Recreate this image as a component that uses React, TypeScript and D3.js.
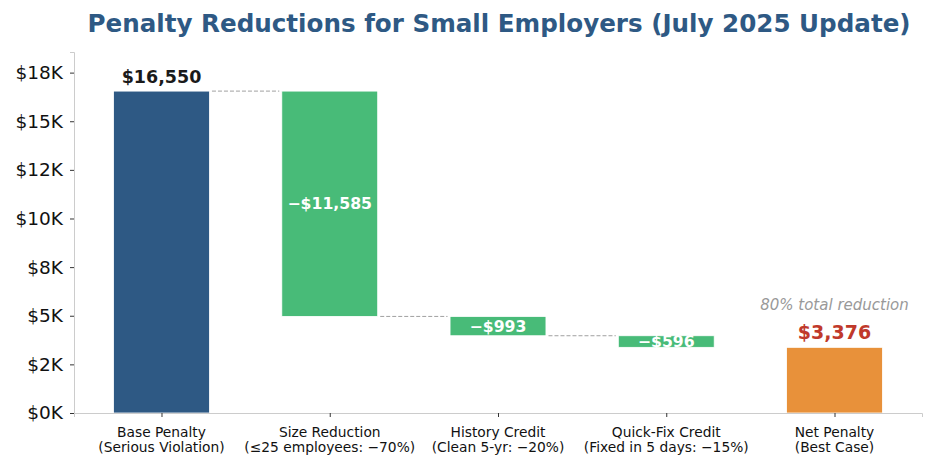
import React, { useEffect, useRef } from "react";
import * as d3 from "d3";

const categories = [
  ["Base Penalty", "(Serious Violation)"],
  ["Size Reduction", "(≤25 employees: −70%)"],
  ["History Credit", "(Clean 5-yr: −20%)"],
  ["Quick-Fix Credit", "(Fixed in 5 days: −15%)"],
  ["Net Penalty", "(Best Case)"],
];
const steps = [16550, -11585, -993, -596];
const netValue = 3376;
const yTicks = [0, 2500, 5000, 7500, 10000, 12500, 15000, 17500];
const yTickLabels = ["$0K", "$2K", "$5K", "$8K", "$10K", "$12K", "$15K", "$18K"];

const W = 935;
const H = 467;

const App = () => {
  const ref = useRef<SVGSVGElement>(null);

  useEffect(() => {
    const svg = d3.select(ref.current);
    svg.selectAll("*").remove();
    const font = "DejaVu Sans, sans-serif";

    const x = d3.scaleLinear().domain([-0.52, 4.52]).range([74, 922]);
    const y = d3.scaleLinear().domain([0, 18560]).range([413, 52]);
    const half = 0.285;

    // running totals
    const bars: { i: number; lo: number; hi: number; color: string; v: number }[] = [];
    let total = 0;
    steps.forEach((s, i) => {
      const start = total;
      total += s;
      bars.push({
        i,
        lo: Math.min(start, total),
        hi: Math.max(start, total),
        color: i === 0 ? "#2e5984" : "#48bb78",
        v: s,
      });
    });
    bars.push({ i: 4, lo: 0, hi: netValue, color: "#e8913a", v: netValue });

    const g = svg.append("g");

    // connectors
    let run = 0;
    steps.forEach((s, i) => {
      run += s;
      if (i < 3) {
        g.append("line")
          .attr("x1", x(i + 0.3))
          .attr("x2", x(i + 0.7))
          .attr("y1", y(run))
          .attr("y2", y(run))
          .attr("stroke", "#a0a0a0")
          .attr("stroke-width", 1)
          .attr("stroke-dasharray", "4,2");
      }
    });

    g.selectAll("rect.bar")
      .data(bars)
      .enter()
      .append("rect")
      .attr("class", "bar")
      .attr("x", (d) => x(d.i - half))
      .attr("width", (d) => x(d.i + half) - x(d.i - half))
      .attr("y", (d) => y(d.hi))
      .attr("height", (d) => y(d.lo) - y(d.hi))
      .attr("fill", (d) => d.color)
      .attr("stroke", "#fff")
      .attr("stroke-width", 0.8);

    const fmt = d3.format(",");

    // labels
    bars.forEach((d) => {
      if (d.i === 0) {
        g.append("text")
          .attr("x", x(d.i))
          .attr("y", y(d.hi) - 8)
          .attr("text-anchor", "middle")
          .attr("font-family", font)
          .attr("font-weight", "bold")
          .attr("font-size", 17.5)
          .attr("fill", "#1a1a1a")
          .text("$" + fmt(d.v));
      } else if (d.i === 4) {
        g.append("text")
          .attr("x", x(d.i))
          .attr("y", y(d.hi) - 8)
          .attr("text-anchor", "middle")
          .attr("font-family", font)
          .attr("font-weight", "bold")
          .attr("font-size", 19)
          .attr("fill", "#c0392b")
          .text("$" + fmt(d.v));
        g.append("text")
          .attr("x", x(d.i))
          .attr("y", y(d.hi) - 37)
          .attr("text-anchor", "middle")
          .attr("font-family", font)
          .attr("font-style", "italic")
          .attr("font-size", 15)
          .attr("fill", "#999")
          .text("80% total reduction");
      } else {
        g.append("text")
          .attr("x", x(d.i))
          .attr("y", (y(d.hi) + y(d.lo)) / 2)
          .attr("dy", "0.35em")
          .attr("text-anchor", "middle")
          .attr("font-family", font)
          .attr("font-weight", "bold")
          .attr("font-size", 15.7)
          .attr("fill", "#fff")
          .text("−$" + fmt(-d.v));
      }
    });

    // y axis
    const ya = svg
      .append("g")
      .attr("transform", "translate(74,0)")
      .call(
        d3
          .axisLeft(y)
          .tickValues(yTicks)
          .tickFormat((_, i) => yTickLabels[i])
          .tickSizeOuter(0)
          .tickSize(4)
          .tickPadding(7)
      );
    ya.select(".domain").attr("stroke", "#cccccc");
    ya.selectAll(".tick line").attr("stroke", "#333");
    ya.selectAll(".tick text")
      .attr("font-family", font)
      .attr("font-size", 18.5)
      .attr("fill", "#111");

    // x axis
    const xa = svg
      .append("g")
      .attr("transform", "translate(0,413)")
      .call(
        d3
          .axisBottom(x)
          .tickValues([0, 1, 2, 3, 4])
          .tickFormat(() => "")
          .tickSizeOuter(0)
          .tickSize(4)
      );
    xa.select(".domain").attr("stroke", "#cccccc");
    xa.selectAll(".tick line").attr("stroke", "#333");
    xa.selectAll(".tick text").remove();
    categories.forEach((c, i) => {
      const t = svg
        .append("text")
        .attr("x", x(i))
        .attr("y", 437)
        .attr("text-anchor", "middle")
        .attr("font-family", font)
        .attr("font-size", 13.8)
        .attr("fill", "#111");
      t.append("tspan").attr("x", x(i)).text(c[0]);
      t.append("tspan").attr("x", x(i)).attr("dy", 14.5).text(c[1]);
    });

    // title
    svg
      .append("text")
      .attr("x", 499)
      .attr("y", 32)
      .attr("text-anchor", "middle")
      .attr("font-family", font)
      .attr("font-weight", "bold")
      .attr("font-size", 24.6)
      .attr("fill", "#2e5984")
      .text("Penalty Reductions for Small Employers (July 2025 Update)");
  }, []);

  return (
    <svg
      ref={ref}
      width={W}
      height={H}
      style={{ position: "absolute", left: 0, top: 0, background: "#fff" }}
    />
  );
};

export default App;
